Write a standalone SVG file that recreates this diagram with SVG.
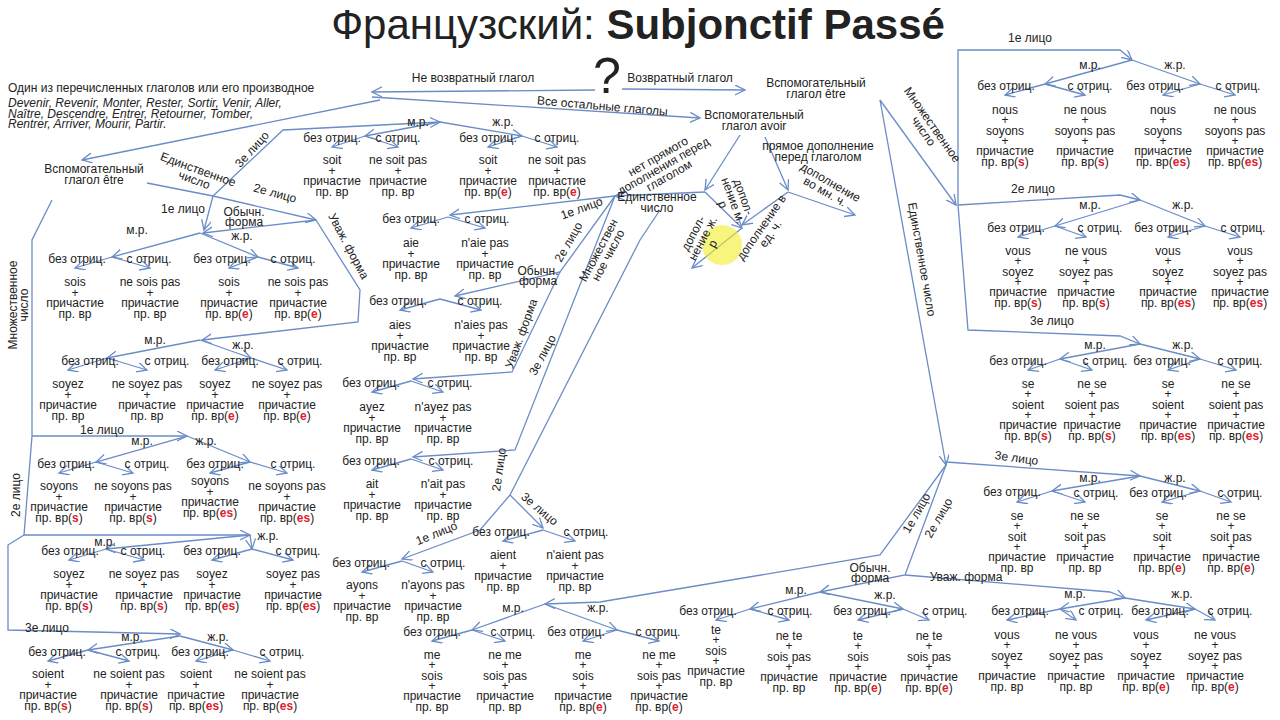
<svg xmlns="http://www.w3.org/2000/svg" width="1280" height="720" viewBox="0 0 1280 720">
<style>
text{font-family:"Liberation Sans","DejaVu Sans",sans-serif;font-size:12px;fill:#222}
.t{text-anchor:middle}
.r{fill:#e0202a;font-weight:bold}
.it{font-style:italic}
#c line,#c polyline{stroke:#6a8cc7;stroke-width:1.3;fill:none}
.a{marker-end:url(#m)}
</style>
<defs><marker id="m" markerWidth="12" markerHeight="12" refX="10" refY="5" orient="auto" markerUnits="userSpaceOnUse"><path d="M0,0 L10,5 L0,10" fill="none" stroke="#6a8cc7" stroke-width="1.3"/></marker></defs>
<rect width="1280" height="720" fill="#fff"/>
<g id="title"><text class="t" x="638" y="39" style="font-size:42px">Французский: <tspan font-weight="bold">Subjonctif Passé</tspan></text>
<text class="t" x="607" y="93" style="font-size:50px">?</text></g>
<g id="c">
<line class="a" x1="595" y1="90" x2="372" y2="92"/>
<line class="a" x1="380" y1="100" x2="82" y2="160"/>
<line class="a" x1="372" y1="97" x2="700" y2="118"/>
<line class="a" x1="622" y1="89" x2="745" y2="90"/>
<polyline class="a" points="147,183 213,196 316,220"/>
<polyline class="a" points="213,196 283,130 440,122"/>
<line class="a" x1="213" y1="196" x2="204" y2="230"/>
<line class="a" x1="316" y1="220" x2="203" y2="233"/>
<polyline class="a" points="316,220 360,290 358,322 202,340"/>
<polyline points="52,200 32,240 32,436"/>
<line class="a" x1="32" y1="436" x2="187" y2="436"/>
<polyline class="a" points="32,436 24,535 250,535"/>
<polyline class="a" points="24,535 8,545 8,630 180,634"/>
<line class="a" x1="365" y1="136" x2="332" y2="147"/><line class="a" x1="365" y1="136" x2="398" y2="147"/><line class="a" x1="440" y1="122" x2="365" y2="136"/><line class="a" x1="440" y1="122" x2="522" y2="136"/><line class="a" x1="522" y1="136" x2="488" y2="147"/><line class="a" x1="522" y1="136" x2="557" y2="147"/>
<line class="a" x1="200" y1="233" x2="112" y2="257"/><line class="a" x1="200" y1="233" x2="258" y2="257"/><line class="a" x1="112" y1="257" x2="75" y2="268"/><line class="a" x1="112" y1="257" x2="150" y2="268"/><line class="a" x1="258" y1="257" x2="229" y2="268"/><line class="a" x1="258" y1="257" x2="298" y2="268"/>
<line class="a" x1="200" y1="340" x2="107" y2="358"/><line class="a" x1="200" y1="340" x2="251" y2="358"/><line class="a" x1="107" y1="358" x2="68" y2="370"/><line class="a" x1="107" y1="358" x2="147" y2="370"/><line class="a" x1="251" y1="358" x2="215" y2="370"/><line class="a" x1="251" y1="358" x2="287" y2="370"/>
<line class="a" x1="187" y1="436" x2="96" y2="462"/><line class="a" x1="187" y1="436" x2="250" y2="462"/><line class="a" x1="96" y1="462" x2="59" y2="473"/><line class="a" x1="96" y1="462" x2="133" y2="473"/><line class="a" x1="250" y1="462" x2="210" y2="473"/><line class="a" x1="250" y1="462" x2="287" y2="473"/>
<line class="a" x1="250" y1="535" x2="106" y2="549"/><line class="a" x1="250" y1="535" x2="252" y2="549"/><line class="a" x1="106" y1="549" x2="69" y2="560"/><line class="a" x1="106" y1="549" x2="144" y2="560"/><line class="a" x1="252" y1="549" x2="212" y2="560"/><line class="a" x1="252" y1="549" x2="293" y2="560"/>
<line class="a" x1="180" y1="636" x2="88" y2="650"/><line class="a" x1="180" y1="636" x2="233" y2="650"/><line class="a" x1="88" y1="650" x2="48" y2="661"/><line class="a" x1="88" y1="650" x2="129" y2="661"/><line class="a" x1="233" y1="650" x2="196" y2="661"/><line class="a" x1="233" y1="650" x2="270" y2="661"/>
<line class="a" x1="740" y1="135" x2="705" y2="190"/>
<line class="a" x1="705" y1="192" x2="615" y2="196"/>
<line class="a" x1="615" y1="196" x2="450" y2="215"/>
<polyline class="a" points="615,196 560,272 455,296"/>
<polyline class="a" points="560,272 512,372 413,379"/>
<polyline class="a" points="615,196 515,450 413,457"/>
<polyline points="660,210 640,240 510,495"/>
<line class="a" x1="510" y1="495" x2="543" y2="528"/>
<polyline class="a" points="510,495 480,530 402,559"/>
<line class="a" x1="448" y1="217" x2="411" y2="228"/><line class="a" x1="448" y1="217" x2="485" y2="228"/>
<line class="a" x1="440" y1="299" x2="400" y2="310"/><line class="a" x1="440" y1="299" x2="481" y2="310"/>
<line class="a" x1="411" y1="381" x2="372" y2="392"/><line class="a" x1="411" y1="381" x2="443" y2="392"/>
<line class="a" x1="411" y1="459" x2="372" y2="470"/><line class="a" x1="411" y1="459" x2="443" y2="470"/>
<line class="a" x1="543" y1="530" x2="503" y2="541"/><line class="a" x1="543" y1="530" x2="575" y2="541"/>
<line class="a" x1="402" y1="561" x2="362" y2="572"/><line class="a" x1="402" y1="561" x2="433" y2="572"/>
<line class="a" x1="765" y1="137" x2="788" y2="190"/>
<line class="a" x1="788" y1="192" x2="855" y2="215"/>
<line class="a" x1="788" y1="192" x2="742" y2="225"/>
<line class="a" x1="705" y1="192" x2="742" y2="228"/>
<line class="a" x1="742" y1="228" x2="692" y2="268"/>
<line class="a" x1="880" y1="100" x2="956" y2="205"/>
<line class="a" x1="880" y1="100" x2="946" y2="465"/>
<polyline class="a" points="958,205 958,50 1120,50 1132,60"/>
<polyline class="a" points="958,205 1120,195 1140,200"/>
<polyline class="a" points="958,205 968,330 1120,336 1140,344"/>
<line class="a" x1="946" y1="462" x2="1140" y2="476"/>
<polyline class="a" points="946,465 880,555 600,602 545,604"/>
<polyline class="a" points="946,465 905,575 820,592"/>
<polyline class="a" points="905,575 1110,592 1125,598"/>
<line class="a" x1="1132" y1="60" x2="1045" y2="84"/><line class="a" x1="1132" y1="60" x2="1200" y2="84"/><line class="a" x1="1045" y1="84" x2="1005" y2="95"/><line class="a" x1="1045" y1="84" x2="1085" y2="95"/><line class="a" x1="1200" y1="84" x2="1163" y2="95"/><line class="a" x1="1200" y1="84" x2="1235" y2="95"/>
<line class="a" x1="1140" y1="200" x2="1055" y2="226"/><line class="a" x1="1140" y1="200" x2="1205" y2="226"/><line class="a" x1="1055" y1="226" x2="1018" y2="237"/><line class="a" x1="1055" y1="226" x2="1086" y2="237"/><line class="a" x1="1205" y1="226" x2="1168" y2="237"/><line class="a" x1="1205" y1="226" x2="1240" y2="237"/>
<line class="a" x1="1140" y1="344" x2="1060" y2="359"/><line class="a" x1="1140" y1="344" x2="1200" y2="359"/><line class="a" x1="1060" y1="359" x2="1028" y2="370"/><line class="a" x1="1060" y1="359" x2="1092" y2="370"/><line class="a" x1="1200" y1="359" x2="1168" y2="370"/><line class="a" x1="1200" y1="359" x2="1236" y2="370"/>
<line class="a" x1="1140" y1="476" x2="1052" y2="491"/><line class="a" x1="1140" y1="476" x2="1200" y2="491"/><line class="a" x1="1052" y1="491" x2="1017" y2="502"/><line class="a" x1="1052" y1="491" x2="1085" y2="502"/><line class="a" x1="1200" y1="491" x2="1162" y2="502"/><line class="a" x1="1200" y1="491" x2="1231" y2="502"/>
<line class="a" x1="1125" y1="598" x2="1060" y2="609"/><line class="a" x1="1125" y1="598" x2="1195" y2="609"/><line class="a" x1="1060" y1="609" x2="1007" y2="620"/><line class="a" x1="1060" y1="609" x2="1076" y2="620"/><line class="a" x1="1195" y1="609" x2="1146" y2="620"/><line class="a" x1="1195" y1="609" x2="1215" y2="620"/>
<line class="a" x1="820" y1="592" x2="750" y2="609"/><line class="a" x1="820" y1="592" x2="903" y2="609"/><line class="a" x1="750" y1="609" x2="716" y2="620"/><line class="a" x1="750" y1="609" x2="789" y2="620"/><line class="a" x1="903" y1="609" x2="858" y2="620"/><line class="a" x1="903" y1="609" x2="929" y2="620"/>
<line class="a" x1="545" y1="604" x2="472" y2="630"/><line class="a" x1="545" y1="604" x2="617" y2="630"/><line class="a" x1="472" y1="630" x2="432" y2="641"/><line class="a" x1="472" y1="630" x2="505" y2="641"/><line class="a" x1="617" y1="630" x2="583" y2="641"/><line class="a" x1="617" y1="630" x2="659" y2="641"/>
</g>
<circle cx="722" cy="245" r="20" fill="#f4ee2a" opacity="0.6"/>
<g id="labels">
<text class="t" x="473" y="82">Не возвратный глагол</text>
<text class="t" x="680" y="82">Возвратный глагол</text>
<text class="t" x="816" y="87">Вспомогательный<tspan x="816" dy="11">глагол être</tspan></text>
<text class="t" x="602" y="110" transform="rotate(5 602 110)">Все остальные глаголы</text>
<text x="8" y="92">Один из перечисленных глаголов или его производное</text>
<text x="8" y="107" class="it">Devenir, Revenir, Monter, Rester, Sortir, Venir, Aller,<tspan x="8" dy="10.5">Naître, Descendre, Entrer, Retourner, Tomber,</tspan><tspan x="8" dy="10.5">Rentrer, Arriver, Mourir, Partir.</tspan></text>
<text class="t" x="754" y="119">Вспомогательный<tspan x="754" dy="11">глагол avoir</tspan></text>
<text class="t" x="94" y="173">Вспомогательный<tspan x="94" dy="11">глагол être</tspan></text>
<text class="t" x="195" y="173" transform="rotate(20 195 178)">Единственное<tspan x="195" dy="11">число</tspan></text>
<text class="t" x="255" y="152" transform="rotate(-48 255 152)">3е лицо</text>
<text class="t" x="274" y="197" transform="rotate(15 274 197)">2е лицо</text>
<text class="t" x="183" y="213">1е лицо</text>
<text class="t" x="244" y="216">Обычн.<tspan x="244" dy="10">форма</tspan></text>
<text class="t" x="345" y="248" transform="rotate(62 345 248)">Уваж. форма</text>
<text class="t" x="137" y="234">м.р.</text><text class="t" x="242" y="240">ж.р.</text>
<text class="t" x="12" y="300" transform="rotate(-90 17 300)">Множественное<tspan x="12" dy="11">число</tspan></text>
<text class="t" x="155" y="344">м.р.</text><text class="t" x="243" y="349">ж.р.</text>
<text class="t" x="102" y="434">1е лицо</text><text class="t" x="142" y="445">м.р.</text><text class="t" x="206" y="445">ж.р.</text>
<text class="t" x="20" y="495" transform="rotate(-90 20 495)">2е лицо</text>
<text class="t" x="105" y="546">м.р.</text><text class="t" x="268" y="540">ж.р.</text>
<text class="t" x="47" y="632">3е лицо</text><text class="t" x="132" y="641">м.р.</text><text class="t" x="218" y="641">ж.р.</text>
<text class="t" x="418" y="126">м.р.</text><text class="t" x="503" y="126">ж.р.</text>
<text class="t" x="660" y="160" transform="rotate(-30 660 160)">нет прямого<tspan x="660" dy="11">дополнения перед</tspan><tspan x="660" dy="11">глаголом</tspan></text>
<text class="t" x="657" y="201">Единственное<tspan x="657" dy="11">число</tspan></text>
<text class="t" x="602" y="252" transform="rotate(-62 602 252)">Множествен<tspan x="602" dy="11">ное число</tspan></text>
<text class="t" x="583" y="212" transform="rotate(-20 583 212)">1е лицо</text>
<text class="t" x="572" y="244" transform="rotate(-60 572 244)">2е лицо</text>
<text class="t" x="538" y="275">Обычн.<tspan x="538" dy="10">форма</tspan></text>
<text class="t" x="525" y="335" transform="rotate(-70 525 335)">Уваж. форма</text>
<text class="t" x="546" y="357" transform="rotate(-62 546 357)">3е лицо</text>
<text class="t" x="503" y="470" transform="rotate(-82 503 470)">2е лицо</text>
<text class="t" x="537" y="512" transform="rotate(40 537 512)">3е лицо</text>
<text class="t" x="438" y="537" transform="rotate(-22 438 537)">1е лицо</text>
<text class="t" x="818" y="150">прямое дополнение<tspan x="818" dy="11">перед глаголом</tspan></text>
<text class="t" x="826" y="185" transform="rotate(30 826 190)">дополнение<tspan x="826" dy="11">во мн. ч.</tspan></text>
<text class="t" x="735" y="195" transform="rotate(70 735 200)">допол-<tspan x="735" dy="11">нение м.</tspan><tspan x="735" dy="11">р</tspan></text>
<text class="t" x="702" y="232" transform="rotate(-62 702 238)">допол-<tspan x="702" dy="11">нение ж.</tspan><tspan x="702" dy="11">р</tspan></text>
<text class="t" x="768" y="228" transform="rotate(-55 768 232)">дополнение в<tspan x="768" dy="11">ед. ч.</tspan></text>
<text class="t" x="1030" y="42">1е лицо</text><text class="t" x="1090" y="69">м.р.</text><text class="t" x="1175" y="69">ж.р.</text>
<text class="t" x="925" y="125" transform="rotate(55 925 130)">Множественное<tspan x="925" dy="11">число</tspan></text>
<text class="t" x="918" y="260" transform="rotate(80 918 260)">Единственное число</text>
<text class="t" x="1033" y="193">2е лицо</text><text class="t" x="1090" y="209">м.р.</text><text class="t" x="1183" y="209">ж.р.</text>
<text class="t" x="1052" y="325">3е лицо</text><text class="t" x="1095" y="349">м.р.</text><text class="t" x="1183" y="349">ж.р.</text>
<text class="t" x="1016" y="462" transform="rotate(8 1016 462)">3е лицо</text><text class="t" x="1090" y="482">м.р.</text><text class="t" x="1175" y="482">ж.р.</text>
<text class="t" x="920" y="515" transform="rotate(-60 920 515)">1е лицо</text>
<text class="t" x="942" y="520" transform="rotate(-60 942 520)">2е лицо</text>
<text class="t" x="870" y="572">Обычн.<tspan x="870" dy="10">форма</tspan></text>
<text class="t" x="966" y="581">Уваж. форма</text>
<text class="t" x="1075" y="598">м.р.</text><text class="t" x="1182" y="598">ж.р.</text>
<text class="t" x="796" y="594">м.р.</text><text class="t" x="885" y="599">ж.р.</text>
<text class="t" x="513" y="612">м.р.</text><text class="t" x="598" y="612">ж.р.</text>
</g>
<g id="headers">
<text class="t" x="332" y="142">без отриц.</text><text class="t" x="398" y="142">с отриц.</text><text class="t" x="488" y="142">без отриц.</text><text class="t" x="557" y="142">с отриц.</text>
<text class="t" x="77" y="263">без отриц.</text><text class="t" x="149" y="263">с отриц.</text><text class="t" x="222" y="263">без отриц.</text><text class="t" x="293" y="263">с отриц.</text>
<text class="t" x="90" y="365">без отриц.</text><text class="t" x="167" y="365">с отриц.</text><text class="t" x="230" y="365">без отриц.</text><text class="t" x="300" y="365">с отриц.</text>
<text class="t" x="66" y="468">без отриц.</text><text class="t" x="147" y="468">с отриц.</text><text class="t" x="215" y="468">без отриц.</text><text class="t" x="293" y="468">с отриц.</text>
<text class="t" x="70" y="555">без отриц.</text><text class="t" x="143" y="555">с отриц.</text><text class="t" x="212" y="555">без отриц.</text><text class="t" x="298" y="555">с отриц.</text>
<text class="t" x="57" y="656">без отриц.</text><text class="t" x="138" y="656">с отриц.</text><text class="t" x="200" y="656">без отриц.</text><text class="t" x="282" y="656">с отриц.</text>
<text class="t" x="411" y="223">без отриц.</text><text class="t" x="487" y="223">с отриц.</text>
<text class="t" x="398" y="305">без отриц.</text><text class="t" x="480" y="305">с отриц.</text>
<text class="t" x="371" y="387">без отриц.</text><text class="t" x="450" y="387">с отриц.</text>
<text class="t" x="371" y="465">без отриц.</text><text class="t" x="451" y="465">с отриц.</text>
<text class="t" x="501" y="536">без отриц.</text><text class="t" x="586" y="536">с отриц.</text>
<text class="t" x="361" y="567">без отриц.</text><text class="t" x="443" y="567">с отриц.</text>
<text class="t" x="1006" y="90">без отриц.</text><text class="t" x="1090" y="90">с отриц.</text><text class="t" x="1155" y="90">без отриц.</text><text class="t" x="1238" y="90">с отриц.</text>
<text class="t" x="1016" y="232">без отриц.</text><text class="t" x="1100" y="232">с отриц.</text><text class="t" x="1163" y="232">без отриц.</text><text class="t" x="1243" y="232">с отриц.</text>
<text class="t" x="1018" y="365">без отриц.</text><text class="t" x="1105" y="365">с отриц.</text><text class="t" x="1162" y="365">без отриц.</text><text class="t" x="1240" y="365">с отриц.</text>
<text class="t" x="1012" y="496">без отриц.</text><text class="t" x="1096" y="497">с отриц.</text><text class="t" x="1158" y="497">без отриц.</text><text class="t" x="1240" y="497">с отриц.</text>
<text class="t" x="1020" y="615">без отриц.</text><text class="t" x="1101" y="615">с отриц.</text><text class="t" x="1160" y="615">без отриц.</text><text class="t" x="1230" y="615">с отриц.</text>
<text class="t" x="708" y="615">без отриц.</text><text class="t" x="790" y="615">с отриц.</text><text class="t" x="862" y="615">без отриц.</text><text class="t" x="945" y="615">с отриц.</text>
<text class="t" x="432" y="636">без отриц.</text><text class="t" x="513" y="636">с отриц.</text><text class="t" x="576" y="636">без отриц.</text><text class="t" x="658" y="636">с отриц.</text>
</g>
<g id="leaves">
<text class="t" x="332" y="164">soit<tspan x="332" dy="10.7">+</tspan><tspan x="332" dy="10.7">причастие</tspan><tspan x="332" dy="10.7">пр. вр</tspan></text>
<text class="t" x="398" y="164">ne soit pas<tspan x="398" dy="10.7">+</tspan><tspan x="398" dy="10.7">причастие</tspan><tspan x="398" dy="10.7">пр. вр</tspan></text>
<text class="t" x="488" y="164">soit<tspan x="488" dy="10.7">+</tspan><tspan x="488" dy="10.7">причастие</tspan><tspan x="488" dy="10.7">пр. вр(<tspan class="r">e</tspan>)</tspan></text>
<text class="t" x="557" y="164">ne soit pas<tspan x="557" dy="10.7">+</tspan><tspan x="557" dy="10.7">причастие</tspan><tspan x="557" dy="10.7">пр. вр(<tspan class="r">e</tspan>)</tspan></text>
<text class="t" x="75" y="286">sois<tspan x="75" dy="10.7">+</tspan><tspan x="75" dy="10.7">причастие</tspan><tspan x="75" dy="10.7">пр. вр</tspan></text>
<text class="t" x="150" y="286">ne sois pas<tspan x="150" dy="10.7">+</tspan><tspan x="150" dy="10.7">причастие</tspan><tspan x="150" dy="10.7">пр. вр</tspan></text>
<text class="t" x="229" y="286">sois<tspan x="229" dy="10.7">+</tspan><tspan x="229" dy="10.7">причастие</tspan><tspan x="229" dy="10.7">пр. вр(<tspan class="r">e</tspan>)</tspan></text>
<text class="t" x="298" y="286">ne sois pas<tspan x="298" dy="10.7">+</tspan><tspan x="298" dy="10.7">причастие</tspan><tspan x="298" dy="10.7">пр. вр(<tspan class="r">e</tspan>)</tspan></text>
<text class="t" x="68" y="388">soyez<tspan x="68" dy="10.7">+</tspan><tspan x="68" dy="10.7">причастие</tspan><tspan x="68" dy="10.7">пр. вр</tspan></text>
<text class="t" x="147" y="388">ne soyez pas<tspan x="147" dy="10.7">+</tspan><tspan x="147" dy="10.7">причастие</tspan><tspan x="147" dy="10.7">пр. вр</tspan></text>
<text class="t" x="215" y="388">soyez<tspan x="215" dy="10.7">+</tspan><tspan x="215" dy="10.7">причастие</tspan><tspan x="215" dy="10.7">пр. вр(<tspan class="r">e</tspan>)</tspan></text>
<text class="t" x="287" y="388">ne soyez pas<tspan x="287" dy="10.7">+</tspan><tspan x="287" dy="10.7">причастие</tspan><tspan x="287" dy="10.7">пр. вр(<tspan class="r">e</tspan>)</tspan></text>
<text class="t" x="59" y="490">soyons<tspan x="59" dy="10.7">+</tspan><tspan x="59" dy="10.7">причастие</tspan><tspan x="59" dy="10.7">пр. вр(<tspan class="r">s</tspan>)</tspan></text>
<text class="t" x="133" y="490">ne soyons pas<tspan x="133" dy="10.7">+</tspan><tspan x="133" dy="10.7">причастие</tspan><tspan x="133" dy="10.7">пр. вр(<tspan class="r">s</tspan>)</tspan></text>
<text class="t" x="210" y="485">soyons<tspan x="210" dy="10.7">+</tspan><tspan x="210" dy="10.7">причастие</tspan><tspan x="210" dy="10.7">пр. вр(<tspan class="r">es</tspan>)</tspan></text>
<text class="t" x="287" y="490">ne soyons pas<tspan x="287" dy="10.7">+</tspan><tspan x="287" dy="10.7">причастие</tspan><tspan x="287" dy="10.7">пр. вр(<tspan class="r">es</tspan>)</tspan></text>
<text class="t" x="69" y="578">soyez<tspan x="69" dy="10.7">+</tspan><tspan x="69" dy="10.7">причастие</tspan><tspan x="69" dy="10.7">пр. вр(<tspan class="r">s</tspan>)</tspan></text>
<text class="t" x="144" y="578">ne soyez pas<tspan x="144" dy="10.7">+</tspan><tspan x="144" dy="10.7">причастие</tspan><tspan x="144" dy="10.7">пр. вр(<tspan class="r">s</tspan>)</tspan></text>
<text class="t" x="212" y="578">soyez<tspan x="212" dy="10.7">+</tspan><tspan x="212" dy="10.7">причастие</tspan><tspan x="212" dy="10.7">пр. вр(<tspan class="r">es</tspan>)</tspan></text>
<text class="t" x="293" y="578">soyez pas<tspan x="293" dy="10.7">+</tspan><tspan x="293" dy="10.7">причастие</tspan><tspan x="293" dy="10.7">пр. вр(<tspan class="r">es</tspan>)</tspan></text>
<text class="t" x="48" y="678">soient<tspan x="48" dy="10.7">+</tspan><tspan x="48" dy="10.7">причастие</tspan><tspan x="48" dy="10.7">пр. вр(<tspan class="r">s</tspan>)</tspan></text>
<text class="t" x="129" y="678">ne soient pas<tspan x="129" dy="10.7">+</tspan><tspan x="129" dy="10.7">причастие</tspan><tspan x="129" dy="10.7">пр. вр(<tspan class="r">s</tspan>)</tspan></text>
<text class="t" x="196" y="678">soient<tspan x="196" dy="10.7">+</tspan><tspan x="196" dy="10.7">причастие</tspan><tspan x="196" dy="10.7">пр. вр(<tspan class="r">es</tspan>)</tspan></text>
<text class="t" x="270" y="678">ne soient pas<tspan x="270" dy="10.7">+</tspan><tspan x="270" dy="10.7">причастие</tspan><tspan x="270" dy="10.7">пр. вр(<tspan class="r">es</tspan>)</tspan></text>
<text class="t" x="411" y="247">aie<tspan x="411" dy="10.7">+</tspan><tspan x="411" dy="10.7">причастие</tspan><tspan x="411" dy="10.7">пр. вр</tspan></text>
<text class="t" x="485" y="247">n'aie pas<tspan x="485" dy="10.7">+</tspan><tspan x="485" dy="10.7">причастие</tspan><tspan x="485" dy="10.7">пр. вр</tspan></text>
<text class="t" x="400" y="329">aies<tspan x="400" dy="10.7">+</tspan><tspan x="400" dy="10.7">причастие</tspan><tspan x="400" dy="10.7">пр. вр</tspan></text>
<text class="t" x="481" y="329">n'aies pas<tspan x="481" dy="10.7">+</tspan><tspan x="481" dy="10.7">причастие</tspan><tspan x="481" dy="10.7">пр. вр</tspan></text>
<text class="t" x="372" y="411">ayez<tspan x="372" dy="10.7">+</tspan><tspan x="372" dy="10.7">причастие</tspan><tspan x="372" dy="10.7">пр. вр</tspan></text>
<text class="t" x="443" y="411">n'ayez pas<tspan x="443" dy="10.7">+</tspan><tspan x="443" dy="10.7">причастие</tspan><tspan x="443" dy="10.7">пр. вр</tspan></text>
<text class="t" x="372" y="488">ait<tspan x="372" dy="10.7">+</tspan><tspan x="372" dy="10.7">причастие</tspan><tspan x="372" dy="10.7">пр. вр</tspan></text>
<text class="t" x="443" y="488">n'ait pas<tspan x="443" dy="10.7">+</tspan><tspan x="443" dy="10.7">причастие</tspan><tspan x="443" dy="10.7">пр. вр</tspan></text>
<text class="t" x="503" y="559">aient<tspan x="503" dy="10.7">+</tspan><tspan x="503" dy="10.7">причастие</tspan><tspan x="503" dy="10.7">пр. вр</tspan></text>
<text class="t" x="575" y="559">n'aient pas<tspan x="575" dy="10.7">+</tspan><tspan x="575" dy="10.7">причастие</tspan><tspan x="575" dy="10.7">пр. вр</tspan></text>
<text class="t" x="362" y="589">ayons<tspan x="362" dy="10.7">+</tspan><tspan x="362" dy="10.7">причастие</tspan><tspan x="362" dy="10.7">пр. вр</tspan></text>
<text class="t" x="433" y="589">n'ayons pas<tspan x="433" dy="10.7">+</tspan><tspan x="433" dy="10.7">причастие</tspan><tspan x="433" dy="10.7">пр. вр</tspan></text>
<text class="t" x="1005" y="114">nous<tspan x="1005" dy="10.3">+</tspan><tspan x="1005" dy="10.3">soyons</tspan><tspan x="1005" dy="10.3">+</tspan><tspan x="1005" dy="10.3">причастие</tspan><tspan x="1005" dy="10.3">пр. вр(<tspan class="r">s</tspan>)</tspan></text>
<text class="t" x="1085" y="114">ne nous<tspan x="1085" dy="10.3">+</tspan><tspan x="1085" dy="10.3">soyons pas</tspan><tspan x="1085" dy="10.3">+</tspan><tspan x="1085" dy="10.3">причастие</tspan><tspan x="1085" dy="10.3">пр. вр(<tspan class="r">s</tspan>)</tspan></text>
<text class="t" x="1163" y="114">nous<tspan x="1163" dy="10.3">+</tspan><tspan x="1163" dy="10.3">soyons</tspan><tspan x="1163" dy="10.3">+</tspan><tspan x="1163" dy="10.3">причастие</tspan><tspan x="1163" dy="10.3">пр. вр(<tspan class="r">es</tspan>)</tspan></text>
<text class="t" x="1235" y="114">ne nous<tspan x="1235" dy="10.3">+</tspan><tspan x="1235" dy="10.3">soyons pas</tspan><tspan x="1235" dy="10.3">+</tspan><tspan x="1235" dy="10.3">причастие</tspan><tspan x="1235" dy="10.3">пр. вр(<tspan class="r">es</tspan>)</tspan></text>
<text class="t" x="1018" y="255">vous<tspan x="1018" dy="10.3">+</tspan><tspan x="1018" dy="10.3">soyez</tspan><tspan x="1018" dy="10.3">+</tspan><tspan x="1018" dy="10.3">причастие</tspan><tspan x="1018" dy="10.3">пр. вр(<tspan class="r">s</tspan>)</tspan></text>
<text class="t" x="1086" y="255">ne vous<tspan x="1086" dy="10.3">+</tspan><tspan x="1086" dy="10.3">soyez pas</tspan><tspan x="1086" dy="10.3">+</tspan><tspan x="1086" dy="10.3">причастие</tspan><tspan x="1086" dy="10.3">пр. вр(<tspan class="r">s</tspan>)</tspan></text>
<text class="t" x="1168" y="255">vous<tspan x="1168" dy="10.3">+</tspan><tspan x="1168" dy="10.3">soyez</tspan><tspan x="1168" dy="10.3">+</tspan><tspan x="1168" dy="10.3">причастие</tspan><tspan x="1168" dy="10.3">пр. вр(<tspan class="r">es</tspan>)</tspan></text>
<text class="t" x="1240" y="255">vous<tspan x="1240" dy="10.3">+</tspan><tspan x="1240" dy="10.3">soyez pas</tspan><tspan x="1240" dy="10.3">+</tspan><tspan x="1240" dy="10.3">причастие</tspan><tspan x="1240" dy="10.3">пр. вр(<tspan class="r">es</tspan>)</tspan></text>
<text class="t" x="1028" y="388">se<tspan x="1028" dy="10.3">+</tspan><tspan x="1028" dy="10.3">soient</tspan><tspan x="1028" dy="10.3">+</tspan><tspan x="1028" dy="10.3">причастие</tspan><tspan x="1028" dy="10.3">пр. вр(<tspan class="r">s</tspan>)</tspan></text>
<text class="t" x="1092" y="388">ne se<tspan x="1092" dy="10.3">+</tspan><tspan x="1092" dy="10.3">soient pas</tspan><tspan x="1092" dy="10.3">+</tspan><tspan x="1092" dy="10.3">причастие</tspan><tspan x="1092" dy="10.3">пр. вр(<tspan class="r">s</tspan>)</tspan></text>
<text class="t" x="1168" y="388">se<tspan x="1168" dy="10.3">+</tspan><tspan x="1168" dy="10.3">soient</tspan><tspan x="1168" dy="10.3">+</tspan><tspan x="1168" dy="10.3">причастие</tspan><tspan x="1168" dy="10.3">пр. вр(<tspan class="r">es</tspan>)</tspan></text>
<text class="t" x="1236" y="388">ne se<tspan x="1236" dy="10.3">+</tspan><tspan x="1236" dy="10.3">soient pas</tspan><tspan x="1236" dy="10.3">+</tspan><tspan x="1236" dy="10.3">причастие</tspan><tspan x="1236" dy="10.3">пр. вр(<tspan class="r">es</tspan>)</tspan></text>
<text class="t" x="1017" y="520">se<tspan x="1017" dy="10.3">+</tspan><tspan x="1017" dy="10.3">soit</tspan><tspan x="1017" dy="10.3">+</tspan><tspan x="1017" dy="10.3">причастие</tspan><tspan x="1017" dy="10.3">пр. вр</tspan></text>
<text class="t" x="1085" y="520">ne se<tspan x="1085" dy="10.3">+</tspan><tspan x="1085" dy="10.3">soit pas</tspan><tspan x="1085" dy="10.3">+</tspan><tspan x="1085" dy="10.3">причастие</tspan><tspan x="1085" dy="10.3">пр. вр</tspan></text>
<text class="t" x="1162" y="520">se<tspan x="1162" dy="10.3">+</tspan><tspan x="1162" dy="10.3">soit</tspan><tspan x="1162" dy="10.3">+</tspan><tspan x="1162" dy="10.3">причастие</tspan><tspan x="1162" dy="10.3">пр. вр(<tspan class="r">e</tspan>)</tspan></text>
<text class="t" x="1231" y="520">ne se<tspan x="1231" dy="10.3">+</tspan><tspan x="1231" dy="10.3">soit pas</tspan><tspan x="1231" dy="10.3">+</tspan><tspan x="1231" dy="10.3">причастие</tspan><tspan x="1231" dy="10.3">пр. вр(<tspan class="r">e</tspan>)</tspan></text>
<text class="t" x="1007" y="639">vous<tspan x="1007" dy="10.3">+</tspan><tspan x="1007" dy="10.3">soyez</tspan><tspan x="1007" dy="10.3">+</tspan><tspan x="1007" dy="10.3">причастие</tspan><tspan x="1007" dy="10.3">пр. вр</tspan></text>
<text class="t" x="1076" y="639">ne vous<tspan x="1076" dy="10.3">+</tspan><tspan x="1076" dy="10.3">soyez pas</tspan><tspan x="1076" dy="10.3">+</tspan><tspan x="1076" dy="10.3">причастие</tspan><tspan x="1076" dy="10.3">пр. вр</tspan></text>
<text class="t" x="1146" y="639">vous<tspan x="1146" dy="10.3">+</tspan><tspan x="1146" dy="10.3">soyez</tspan><tspan x="1146" dy="10.3">+</tspan><tspan x="1146" dy="10.3">причастие</tspan><tspan x="1146" dy="10.3">пр. вр(<tspan class="r">e</tspan>)</tspan></text>
<text class="t" x="1215" y="639">ne vous<tspan x="1215" dy="10.3">+</tspan><tspan x="1215" dy="10.3">soyez pas</tspan><tspan x="1215" dy="10.3">+</tspan><tspan x="1215" dy="10.3">причастие</tspan><tspan x="1215" dy="10.3">пр. вр(<tspan class="r">e</tspan>)</tspan></text>
<text class="t" x="716" y="634">te<tspan x="716" dy="10.3">+</tspan><tspan x="716" dy="10.3">sois</tspan><tspan x="716" dy="10.3">+</tspan><tspan x="716" dy="10.3">причастие</tspan><tspan x="716" dy="10.3">пр. вр</tspan></text>
<text class="t" x="789" y="640">ne te<tspan x="789" dy="10.3">+</tspan><tspan x="789" dy="10.3">sois pas</tspan><tspan x="789" dy="10.3">+</tspan><tspan x="789" dy="10.3">причастие</tspan><tspan x="789" dy="10.3">пр. вр</tspan></text>
<text class="t" x="858" y="640">te<tspan x="858" dy="10.3">+</tspan><tspan x="858" dy="10.3">sois</tspan><tspan x="858" dy="10.3">+</tspan><tspan x="858" dy="10.3">причастие</tspan><tspan x="858" dy="10.3">пр. вр(<tspan class="r">e</tspan>)</tspan></text>
<text class="t" x="929" y="640">ne te<tspan x="929" dy="10.3">+</tspan><tspan x="929" dy="10.3">sois pas</tspan><tspan x="929" dy="10.3">+</tspan><tspan x="929" dy="10.3">причастие</tspan><tspan x="929" dy="10.3">пр. вр(<tspan class="r">e</tspan>)</tspan></text>
<text class="t" x="432" y="659">me<tspan x="432" dy="10.3">+</tspan><tspan x="432" dy="10.3">sois</tspan><tspan x="432" dy="10.3">+</tspan><tspan x="432" dy="10.3">причастие</tspan><tspan x="432" dy="10.3">пр. вр</tspan></text>
<text class="t" x="505" y="659">ne me<tspan x="505" dy="10.3">+</tspan><tspan x="505" dy="10.3">sois pas</tspan><tspan x="505" dy="10.3">+</tspan><tspan x="505" dy="10.3">причастие</tspan><tspan x="505" dy="10.3">пр. вр</tspan></text>
<text class="t" x="583" y="659">me<tspan x="583" dy="10.3">+</tspan><tspan x="583" dy="10.3">sois</tspan><tspan x="583" dy="10.3">+</tspan><tspan x="583" dy="10.3">причастие</tspan><tspan x="583" dy="10.3">пр. вр(<tspan class="r">e</tspan>)</tspan></text>
<text class="t" x="659" y="659">ne me<tspan x="659" dy="10.3">+</tspan><tspan x="659" dy="10.3">sois pas</tspan><tspan x="659" dy="10.3">+</tspan><tspan x="659" dy="10.3">причастие</tspan><tspan x="659" dy="10.3">пр. вр(<tspan class="r">e</tspan>)</tspan></text>
</g>
</svg>
